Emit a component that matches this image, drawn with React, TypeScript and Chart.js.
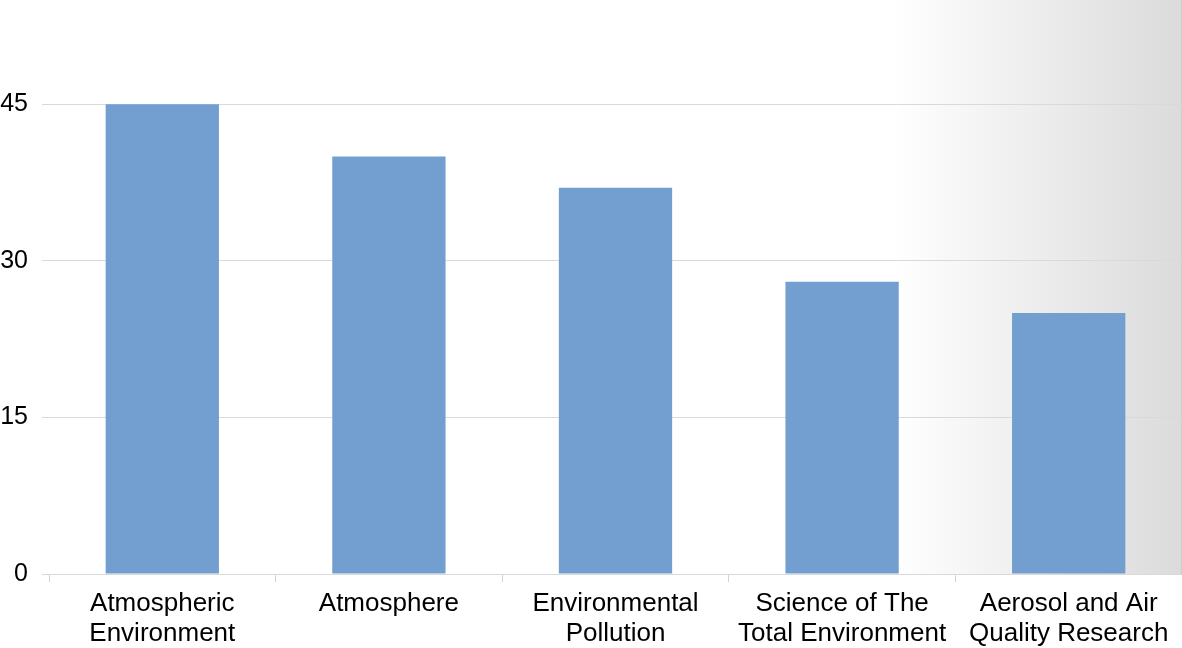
import React, { useEffect, useRef } from "react";
import { Chart, registerables } from "chart.js";

Chart.register(...registerables);

const categories: string[][] = [
  ["Atmospheric", "Environment"],
  ["Atmosphere"],
  ["Environmental", "Pollution"],
  ["Science of The", "Total Environment"],
  ["Aerosol and Air", "Quality Research"],
];
const values: number[] = [45, 40, 37, 28, 25];
const yTicks: number[] = [0, 15, 30, 45];

const W = 1182;
const H = 648;

const bgPlugin = {
  id: "bgGradient",
  beforeDraw(chart: any) {
    const { ctx, chartArea } = chart;
    if (!chartArea) return;
    const x0 = 895;
    const g = ctx.createLinearGradient(x0, 0, chartArea.right, 0);
    g.addColorStop(0, "rgba(255,255,255,1)");
    g.addColorStop(1, "rgb(219,219,219)");
    ctx.save();
    ctx.fillStyle = g;
    ctx.fillRect(x0, chartArea.top, chartArea.right - x0, chartArea.bottom - chartArea.top);
    ctx.fillStyle = "rgb(205,205,205)";
    ctx.fillRect(chartArea.right - 1, chartArea.top, 1, chartArea.bottom - chartArea.top);
    ctx.restore();
  },
};

export default function App() {
  const ref = useRef<HTMLCanvasElement | null>(null);

  useEffect(() => {
    document.body.style.margin = "0";
    if (!ref.current) return;
    Chart.defaults.font.family = "'Liberation Sans', Arial, sans-serif";
    const chart = new Chart(ref.current, {
      type: "bar",
      data: {
        labels: categories,
        datasets: [
          {
            data: values,
            backgroundColor: "rgb(114,159,207)",
            barPercentage: 0.5,
            categoryPercentage: 1,
          },
        ],
      },
      options: {
        animation: false,
        responsive: false,
        layout: { padding: 0 },
        plugins: { legend: { display: false }, tooltip: { enabled: false } },
        scales: {
          x: {
            offset: true,
            border: { display: false },
            grid: {
              offset: true,
              drawOnChartArea: false,
              drawTicks: true,
              tickLength: 8,
              color: "rgb(210,210,210)",
            },
            ticks: {
              color: "#000",
              font: { size: 26, lineHeight: "30px" },
              padding: 7,
              maxRotation: 0,
              autoSkip: false,
            },
            afterFit(scale: any) {
              scale.height = 74;
              scale.paddingLeft = 0;
              scale.paddingRight = 0;
            },
          },
          y: {
            min: 0,
            max: 55,
            border: { display: false },
            grid: {
              color: "rgb(217,217,217)",
              drawTicks: true,
              tickLength: 7,
            },
            ticks: {
              stepSize: 15,
              color: "#000",
              font: { size: 25 },
              padding: 14,
            },
            afterBuildTicks(scale: any) {
              scale.ticks = yTicks.map((v) => ({ value: v }));
            },
            afterFit(scale: any) {
              scale.width = 49;
              scale.paddingTop = 0;
              scale.paddingBottom = 0;
            },
          },
        },
      },
      plugins: [bgPlugin],
    });
    return () => chart.destroy();
  }, []);

  return (
    <div style={{ position: "absolute", left: 0, top: 0, width: W, height: H }}>
      <canvas ref={ref} width={W} height={H} style={{ display: "block" }} />
    </div>
  );
}
